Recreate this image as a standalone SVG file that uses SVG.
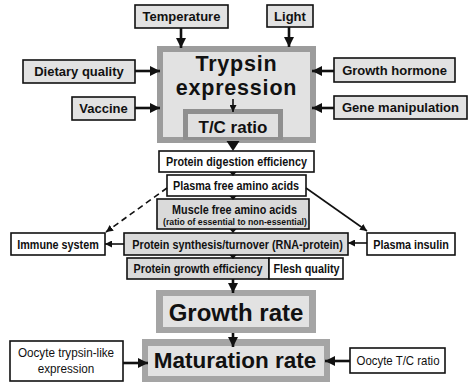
<svg xmlns="http://www.w3.org/2000/svg" width="474" height="382" viewBox="0 0 474 382">
<style>
.box{stroke:#111;stroke-width:1.6}
.lg{fill:#e2e2e2}
.wh{fill:#ffffff}
.gf{fill:#dadada}
.t{font-family:"Liberation Sans",Arial,sans-serif;font-weight:bold;fill:#111;text-anchor:middle}
.r{font-family:"Liberation Sans",Arial,sans-serif;fill:#111;text-anchor:middle;font-size:13px}
.big{font-size:21.5px;letter-spacing:0.8px}
.s13{font-size:13px}
.c{font-size:13.5px}
.ar{stroke:#111;stroke-width:2.6;fill:none}
.thin{stroke:#111;stroke-width:1.6;fill:none}
</style>
<defs>
<marker id="ah" markerUnits="userSpaceOnUse" viewBox="0 0 10 10" refX="10" refY="5" markerWidth="10" markerHeight="10" orient="auto">
<path d="M0,0 L10,5 L0,10 z" fill="#111"/>
</marker>
<marker id="ahs" markerUnits="userSpaceOnUse" viewBox="0 0 10 10" refX="10" refY="5" markerWidth="7" markerHeight="7" orient="auto">
<path d="M0,0 L10,5 L0,10 z" fill="#111"/>
</marker>
</defs>

<g id="trypsin">
<rect x="157" y="46" width="159" height="97" fill="#9c9c9c"/>
<rect x="163" y="52" width="147" height="85" fill="#e2e2e2"/>
<text class="t big" x="236.5" y="71">Trypsin</text>
<text class="t big" x="236.5" y="95">expression</text>
</g>
<g id="tc-ratio">
<rect x="183" y="109" width="100" height="31" fill="#8f8f8f"/>
<rect x="188" y="114" width="90" height="23" fill="#e0e0e0"/>
<text class="t" x="233" y="133" font-size="17">T/C ratio</text>
</g>

<g id="temperature">
<rect class="box lg" x="135" y="5" width="93" height="23"/>
<text class="t s13" x="181.5" y="21">Temperature</text>
</g>
<g id="light">
<rect class="box lg" x="267" y="5" width="46" height="22"/>
<text class="t s13" x="290" y="21">Light</text>
</g>
<g id="dietary">
<rect class="box lg" x="23" y="60" width="112" height="23"/>
<text class="t s13" x="79" y="76">Dietary quality</text>
</g>
<g id="vaccine">
<rect class="box lg" x="72" y="97" width="63" height="23"/>
<text class="t s13" x="103.5" y="113">Vaccine</text>
</g>
<g id="growth-hormone">
<rect class="box lg" x="334" y="58" width="121" height="24"/>
<text class="t s13" x="394.5" y="75">Growth hormone</text>
</g>
<g id="gene-manipulation">
<rect class="box lg" x="334" y="96" width="133" height="23"/>
<text class="t s13" x="400.5" y="112">Gene manipulation</text>
</g>

<g id="digestion">
<rect class="box wh" x="159" y="151" width="155" height="21"/>
<text class="t c" transform="translate(236.5,166) scale(0.8,1)">Protein digestion efficiency</text>
</g>
<g id="plasma-aa">
<rect class="box wh" x="167" y="175" width="139" height="21"/>
<text class="t c" transform="translate(236,190) scale(0.8,1)">Plasma free amino acids</text>
</g>
<g id="muscle-aa">
<rect class="box gf" x="157" y="199" width="152" height="30"/>
<text class="t c" transform="translate(234.5,214) scale(0.8,1)">Muscle free amino acids</text>
<text class="t" x="235" y="225" font-size="8.7">(ratio of essential to non-essential)</text>
</g>
<g id="synthesis">
<rect class="box gf" x="124" y="233" width="224" height="22"/>
<text class="t c" transform="translate(237.5,249) scale(0.8,1)">Protein synthesis/turnover (RNA-protein)</text>
</g>
<g id="growth-efficiency">
<rect class="box gf" x="127" y="258" width="142" height="21"/>
<text class="t c" transform="translate(198,273) scale(0.8,1)">Protein growth efficiency</text>
</g>
<g id="flesh-quality">
<rect class="box wh" x="269" y="258" width="74" height="21"/>
<text class="t c" transform="translate(306.5,273) scale(0.8,1)">Flesh quality</text>
</g>
<g id="immune">
<rect class="box wh" x="11" y="233" width="94" height="22"/>
<text class="t c" transform="translate(58,249) scale(0.8,1)">Immune system</text>
</g>
<g id="plasma-insulin">
<rect class="box wh" x="367" y="233" width="88" height="22"/>
<text class="t c" transform="translate(411,249) scale(0.8,1)">Plasma insulin</text>
</g>

<g id="growth-rate">
<rect x="156" y="290" width="160" height="43" fill="#a5a5a5"/>
<rect x="163" y="296" width="146" height="31" fill="#e2e2e2"/>
<text class="t" x="236" y="321" font-size="24">Growth rate</text>
</g>
<g id="maturation-rate">
<rect x="142" y="339" width="188" height="43" fill="#a5a5a5"/>
<rect x="148" y="346" width="176" height="30" fill="#e2e2e2"/>
<text class="t" x="235" y="368" font-size="22.5">Maturation rate</text>
</g>
<g id="oocyte-trypsin">
<rect class="box wh" x="10" y="341" width="113" height="40"/>
<text class="r" transform="translate(66,357) scale(0.9,1)">Oocyte trypsin-like</text>
<text class="r" transform="translate(66,373) scale(0.9,1)">expression</text>
</g>
<g id="oocyte-tc">
<rect class="box wh" x="350" y="348" width="95" height="25"/>
<text class="r" transform="translate(398,365) scale(0.88,1)">Oocyte T/C ratio</text>
</g>

<g id="connectors">
<line class="ar" x1="181" y1="28" x2="181" y2="48" marker-end="url(#ah)"/>
<line class="ar" x1="289" y1="27" x2="289" y2="47" marker-end="url(#ah)"/>
<line class="ar" x1="135" y1="71" x2="160" y2="71" marker-end="url(#ah)"/>
<line class="ar" x1="135" y1="108" x2="160" y2="108" marker-end="url(#ah)"/>
<line class="ar" x1="334" y1="71" x2="312" y2="71" marker-end="url(#ah)"/>
<line class="ar" x1="334" y1="108" x2="312" y2="108" marker-end="url(#ah)"/>
<line class="thin" x1="233" y1="99" x2="233" y2="112" marker-end="url(#ahs)"/>
<polygon points="226.5,141 239.5,141 233,151" fill="#111"/>
<polygon points="229.5,172 236.5,172 233,176" fill="#111"/>
<polygon points="229.5,196 236.5,196 233,200" fill="#111"/>
<polygon points="229.5,229 236.5,229 233,233" fill="#111"/>
<polygon points="229.5,255 236.5,255 233,259" fill="#111"/>
<line class="ar" x1="233" y1="279" x2="233" y2="293" marker-end="url(#ah)"/>
<line class="ar" x1="233" y1="333" x2="233" y2="347" marker-end="url(#ah)"/>
<line class="ar" x1="123" y1="363" x2="148" y2="363" marker-end="url(#ah)"/>
<line class="ar" x1="350" y1="361" x2="325" y2="361" marker-end="url(#ah)"/>
<line class="thin" x1="124" y1="244" x2="105" y2="244" marker-end="url(#ahs)"/>
<line class="thin" x1="367" y1="243" x2="348" y2="243" marker-end="url(#ahs)"/>
<line class="thin" x1="167" y1="188" x2="106" y2="232" stroke-dasharray="6,4" marker-end="url(#ahs)"/>
<line class="thin" x1="306" y1="188" x2="367" y2="231" marker-end="url(#ahs)"/>
</g>
</svg>
